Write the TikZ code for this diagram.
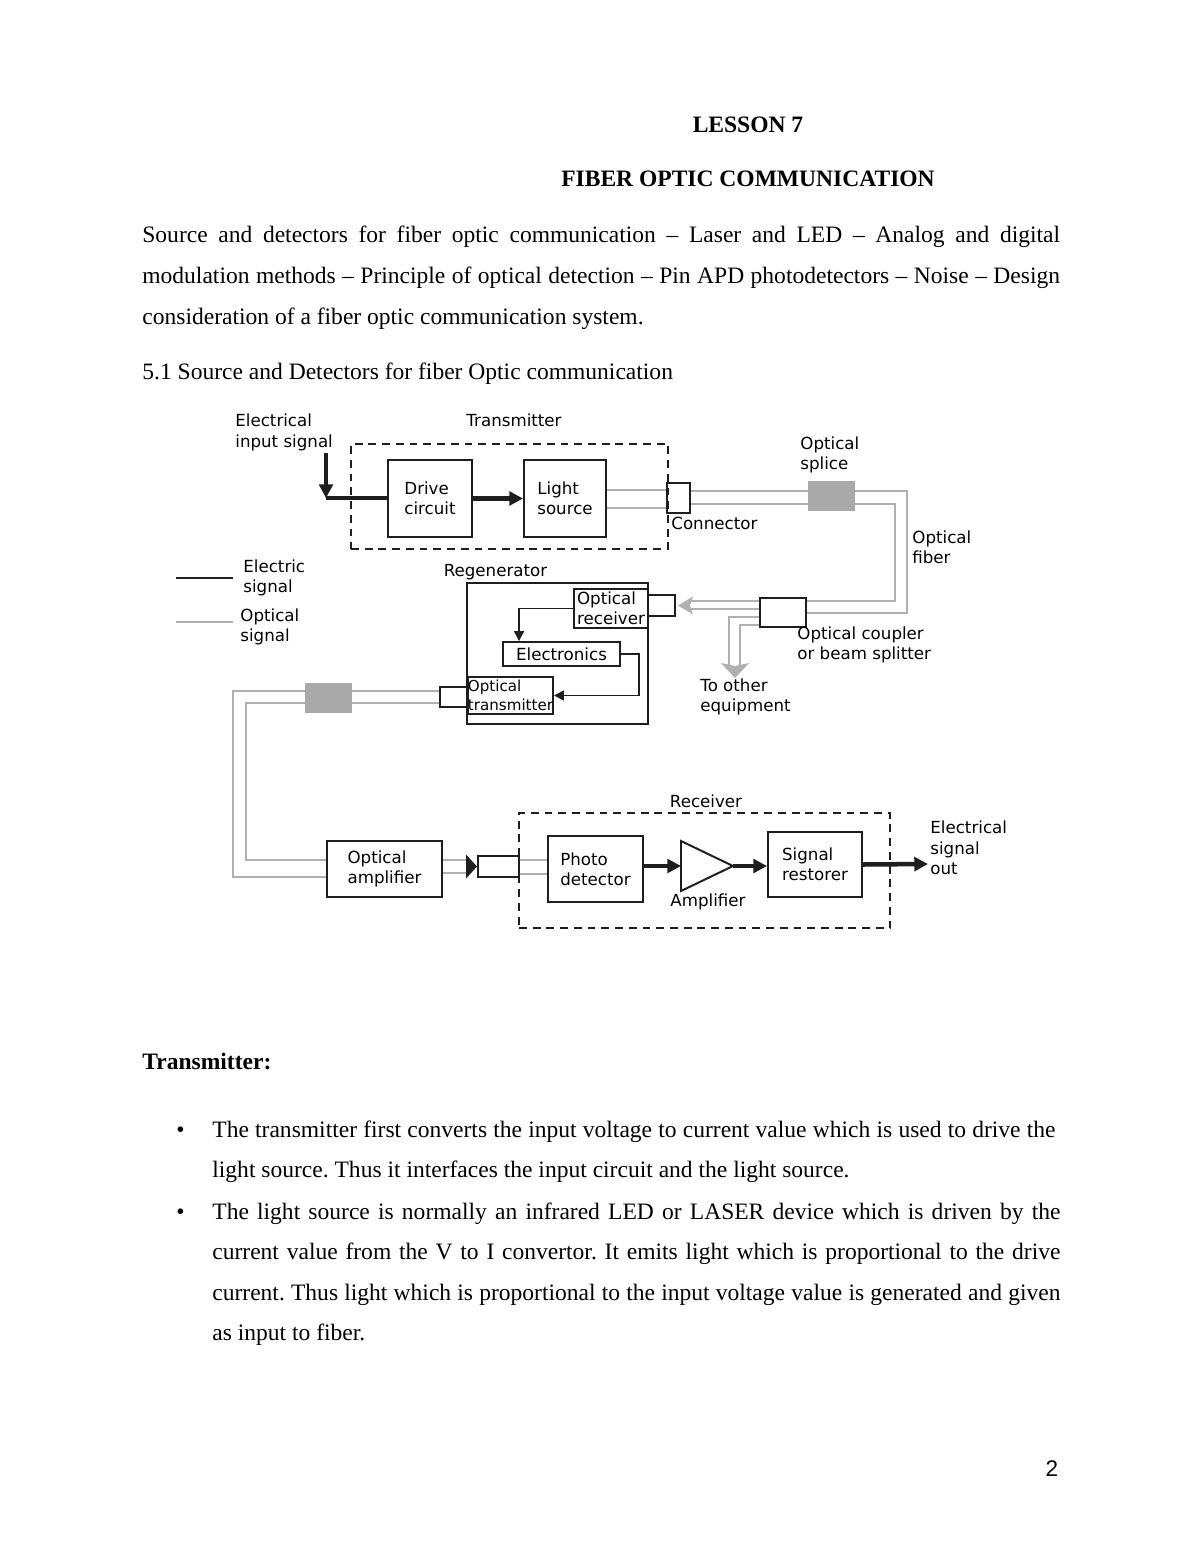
\documentclass[tikz,border=0pt]{standalone}
\usepackage{fontspec}
\setmainfont{Liberation Serif}
\newfontfamily\dvs{DejaVu Sans}
\newfontfamily\lsans{Liberation Sans}
\usetikzlibrary{arrows.meta,calc}
\definecolor{fib}{HTML}{B0B0B0}
\definecolor{spl}{HTML}{A9A9A9}
\definecolor{ink}{HTML}{1E1E1E}
\frenchspacing
\begin{document}
\begin{tikzpicture}[x=0.51pt,y=-0.51pt,
  dg/.style={font=\dvs\fontsize{8.5}{10.4}\selectfont},
  bx/.style args={#1/#2}{draw=ink,line width=1pt,minimum width=#1*0.51pt,minimum height=#2*0.51pt,inner sep=0pt,align=left,dg},
  dbox/.style args={#1/#2}{draw=ink,line width=1pt,dash pattern=on 4pt off 3pt,minimum width=#1*0.51pt,minimum height=#2*0.51pt,inner sep=0pt},
  splbox/.style={fill=spl,minimum width=47*0.51pt,minimum height=30*0.51pt,inner sep=0pt},
  lbl/.style={dg,inner sep=0pt,align=left,anchor=west},
  clbl/.style={dg,inner sep=0pt},
  fiber/.style={draw=fib,line width=1.1pt},
  elec/.style={draw=ink,line width=2.3pt,-{Triangle[length=7pt,width=7pt]}},
  sig/.style={draw=ink,line width=0.9pt,-{Triangle[length=5pt,width=5pt]}},
  body/.style={inner sep=0pt,anchor=base west,font=\fontsize{12}{14}\selectfont},
  bbody/.style={inner sep=0pt,anchor=base,font=\bfseries\fontsize{12}{14}\selectfont},
]
\useasboundingbox (0,0) rectangle (1200,1553);
\fill[white] (0,0) rectangle (1200,1553);

% ---------- page text ----------
\node[bbody] (lesson) at (748,133) {LESSON 7};
\node[bbody] (title) at (748,187) {FIBER OPTIC COMMUNICATION};
\node[body] (p1) at (142,243) {\makebox[468pt][s]{Source and detectors for fiber optic communication – Laser and LED – Analog and digital}};
\node[body] (p2) at (142,283) {\makebox[468pt][s]{modulation methods – Principle of optical detection – Pin APD photodetectors – Noise – Design}};
\node[body] (p3) at (142,324) {consideration of a fiber optic communication system.};
\node[body] (sec) at (142,379) {5.1 Source and Detectors for fiber Optic communication};
\node[body,font=\bfseries\fontsize{12}{14}\selectfont] (trh) at (142,1069) {Transmitter:};
\node[body] (bul1) at (176,1137) {\textbullet};
\node[body] (l1) at (212,1137) {\makebox[430pt][s]{The transmitter first converts the input voltage to current value which is used to drive the}};
\node[body] (l2) at (212,1177) {light source. Thus it interfaces the input circuit and the light source.};
\node[body] (bul2) at (176,1219) {\textbullet};
\node[body] (l3) at (212,1219) {\makebox[432.5pt][s]{The light source is normally an infrared LED or LASER device which is driven by the}};
\node[body] (l4) at (212,1259) {\makebox[432.5pt][s]{current value from the V to I convertor. It emits light which is proportional to the drive}};
\node[body] (l5) at (212,1300) {\makebox[432.5pt][s]{current. Thus light which is proportional to the input voltage value is generated and given}};
\node[body] (l6) at (212,1340) {as input to fiber.};
\node[inner sep=0pt,anchor=base,font=\lsans\fontsize{11.5}{13}\selectfont] (pg) at (1052,1476) {2};

% ---------- transmitter ----------
\node[dbox=317/105] (tx) at (509.5,496.5) {};
\node[clbl] (txl) at (514,420) {Transmitter};
\node[lbl] (inl) at (235,432.5) {Electrical\\input signal};
\node[bx=84/77] (drive) at (430,498.5) {Drive\\circuit};
\node[bx=82/77] (light) at (565,498.5) {Light\\source};
\coordinate (inb) at (326,498);
\draw[draw=ink,line width=2.3pt] (inb) -- (drive.west |- inb);
\draw[elec] ($(inl.south -| inb)+(0,2)$) -- (inb);
\draw[elec] (drive) -- (light);

\node[bx=23/30] (con1) at (678.5,498) {};
\node[lbl] (conl) at (671,523) {Connector};
\draw[fiber] (light.east |- 0,490) -- (con1.west |- 0,490);
\draw[fiber] (light.east |- 0,508) -- (con1.west |- 0,508);

\node[splbox] (spl1) at (831.5,496) {};
\node[lbl] (spll) at (800,455) {Optical\\splice};
\draw[fiber] (con1.east |- 0,491) -- (spl1.west |- 0,491);
\draw[fiber] (con1.east |- 0,504) -- (spl1.west |- 0,504);

\node[bx=46/29] (cpl) at (783,612.5) {};
\draw[fiber] (spl1.east |- 0,491) -| (907,613) -- (cpl.east |- 0,613);
\draw[fiber] (spl1.east |- 0,504) -| (895,601) -- (cpl.east |- 0,601);
\node[lbl] (fibl) at (912,547) {Optical\\fiber};
\node[lbl] (cpll) at (797,645) {Optical coupler\\or beam splitter};

% ---------- regenerator ----------
\node[bx=181/141] (reg) at (557.5,653.5) {};
\node[clbl] (regl) at (495.5,572) {Regenerator};
\node[bx=74/39] (orx) at (611,608.5) {Optical\\receiver};
\node[bx=27/21] (orxc) at (661.5,605.5) {};
\node[bx=117/24] (elx) at (561.5,654) {Electronics};
\node[bx=85/37,font=\dvs\fontsize{7.7}{9.4}\selectfont] (otx) at (510.5,695.5) {Optical\\transmitter};
\node[bx=28/20] (otxc) at (454,697) {};
\draw[sig] (orx.west) -| ($(elx.north west)+(17,0)$);
\draw[sig] (elx.east) -- ++(18,0) |- (otx.east);

\coordinate (rxtip) at ($(orxc.east)+(2,0)$);
\draw[fiber] (cpl.west |- 0,601) -- ($(rxtip |- 0,601)+(12,0)$);
\draw[fiber] (cpl.west |- 0,609) -- ($(rxtip |- 0,609)+(12,0)$);
\fill[fib] (rxtip) -- ++(15,-9) -- ++(-3,9) -- ++(3,9) -- cycle;

\coordinate (othtip) at (735,678);
\draw[fiber] (cpl.west |- 0,617) -| ($(othtip)+(-6,-13)$);
\draw[fiber] (cpl.west |- 0,625) -| ($(othtip)+(5,-13)$);
\fill[fib] (othtip) -- ++(-14,-15) -- ++(14,3) -- ++(14,-3) -- cycle;
\node[lbl] (othl) at (700,697) {To other\\equipment};

\node[splbox] (spl2) at (328.5,697.5) {};
\draw[fiber] (otxc.west |- 0,691) -- (spl2.east |- 0,691);
\draw[fiber] (otxc.west |- 0,703) -- (spl2.east |- 0,703);

% ---------- legend ----------
\coordinate (le1) at (176,578); \coordinate (le2) at (233,578);
\coordinate (lo1) at (176,622); \coordinate (lo2) at (233,622);
\draw[ink,line width=1.4pt] (le1) -- (le2);
\draw[fib,line width=1.2pt] (lo1) -- (lo2);
\node[lbl] (lel) at (243,578) {Electric\\signal};
\node[lbl] (lol) at (240,627) {Optical\\signal};

% ---------- receiver side ----------
\node[bx=115/56] (oamp) at (384.5,869) {Optical\\amplifier};
\draw[fiber] (spl2.west |- 0,691) -| (233,877) -- (oamp.west |- 0,877);
\draw[fiber] (spl2.west |- 0,703) -| (246,860) -- (oamp.west |- 0,860);

\node[bx=41/21] (con2) at (498.5,866.5) {};
\fill[ink] (con2.west) -- ++(-11,-12) -- ++(0,24) -- cycle;
\draw[fiber] (oamp.east |- 0,860) -- ($(con2.west |- 0,860)+(-11,0)$);
\draw[fiber] (oamp.east |- 0,873) -- ($(con2.west |- 0,873)+(-11,0)$);

\node[dbox=371/115] (rcv) at (704.5,870.5) {};
\node[clbl] (rcvl) at (706,801) {Receiver};
\node[bx=95/66] (pd) at (595.5,869) {Photo\\detector};
\draw[fiber] (con2.east |- 0,860) -- (pd.west |- 0,860);
\draw[fiber] (con2.east |- 0,874) -- (pd.west |- 0,874);

\coordinate (ampin) at (681,866);
\coordinate (ampout) at (733,866);
\draw[ink,line width=1pt] (ampin) ++(0,-25) -- (ampout) -- ($(ampin)+(0,25)$) -- cycle;
\node[clbl] (ampl) at (708,902) {Amplifier};
\draw[elec] (pd.east |- ampin) -- (ampin);

\node[bx=94/65] (rst) at (815,864.5) {Signal\\restorer};
\draw[elec] (ampout) -- (rst.west |- ampout);
\coordinate (outtip) at (928,864);
\draw[elec] (rst.east) -- (outtip);
\node[lbl] (outl) at (930,848) {Electrical\\signal\\out};
\end{tikzpicture}
\end{document}
